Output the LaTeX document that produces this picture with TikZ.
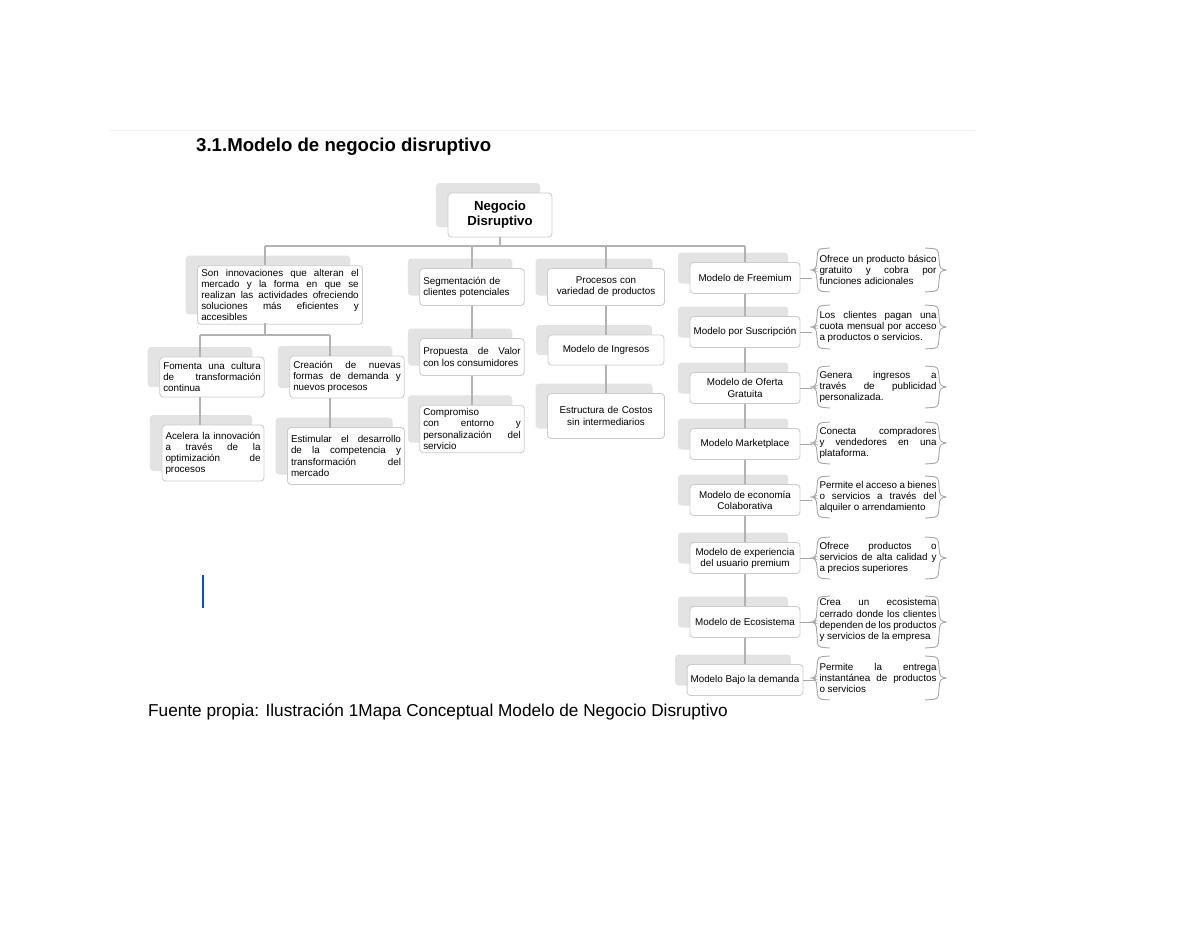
\documentclass[tikz,border=0pt]{standalone}
\usepackage{fontspec}
\setmainfont{Liberation Sans}
\usetikzlibrary{shadows}
\hyphenpenalty=10000 \exhyphenpenalty=10000 \hbadness=10000
\begin{document}
\begin{tikzpicture}[x=0.02cm,y=-0.02cm,
 bx/.style={draw=gray!40,fill=white,rounded corners=2pt,line width=0.5pt,
   inner sep=2pt,font=\fontsize{5.6}{6.3}\selectfont,
   copy shadow={shadow xshift=-0.24cm,shadow yshift=0.2cm,fill=gray!22,draw=none}},
 ln/.style={draw=gray!60,line width=0.9pt},
 br/.style={draw=gray!70,line width=0.5pt},
 bt/.style={font=\fontsize{5.6}{6.3}\selectfont,align=justify,inner sep=1pt}]
\useasboundingbox (0,0) rectangle (1200,927);
\fill[white] (0,0) rectangle (1200,927);
\draw[gray!12] (110,130) -- (975,130);
\node[anchor=west,font=\bfseries\fontsize{10.6}{13}\selectfont] (title) at (190,147) {3.1.Modelo de negocio disruptivo};
\node[anchor=west,font=\fontsize{9.8}{12}\selectfont] (cap) at (142,712) {Fuente propia: Ilustración 1Mapa Conceptual Modelo de Negocio Disruptivo};
\draw[blue!70!cyan,line width=0.8pt] (203,575) -- (203,608);
% root
\node[bx,minimum width=2.08cm,minimum height=0.88cm,font=\bfseries\fontsize{7.5}{8.5}\selectfont,align=center] (root) at (500,215) {Negocio\\Disruptivo};
% column 1
\node[bx,minimum width=3.3cm,minimum height=1.1cm,text width=3.15cm,align=justify] (c1) at (280,295) {Son innovaciones que alteran el mercado y la forma en que se realizan las actividades ofreciendo soluciones más eficientes y accesibles};
\node[bx,minimum width=2.08cm,minimum height=0.8cm,text width=1.95cm,align=justify] (a1) at (212,377) {Fomenta una cultura de transformación continua};
\node[bx,minimum width=2.28cm,minimum height=0.84cm,text width=2.15cm,align=justify] (b1) at (347,377) {Creación de nuevas formas de demanda y nuevos procesos};
\node[bx,minimum width=2.04cm,minimum height=1.12cm,text width=1.9cm,align=justify] (a2) at (213,453) {Acelera la innovación a través de la optimización de procesos};
\node[bx,minimum width=2.34cm,minimum height=1.14cm,text width=2.2cm,align=justify] (b2) at (346,456) {Estimular el desarrollo de la competencia y transformación del mercado};
% column 2
\node[bx,minimum width=2.08cm,minimum height=0.74cm,text width=1.95cm,align=left] (d1) at (472,287) {Segmentación de clientes potenciales};
\node[bx,minimum width=2.08cm,minimum height=0.74cm,text width=1.95cm,align=justify] (d2) at (472,357) {Propuesta de Valor con los consumidores};
\node[bx,minimum width=2.08cm,minimum height=0.84cm,text width=1.95cm,align=justify] (d3) at (472,429) {Compromiso con entorno y personalización del servicio};
% column 3
\node[bx,minimum width=2.32cm,minimum height=0.74cm,text width=2.2cm,align=center] (e1) at (606,287) {Procesos con variedad de productos};
\node[bx,minimum width=2.32cm,minimum height=0.6cm,align=center] (e2) at (606,350) {Modelo de Ingresos};
\node[bx,minimum width=2.32cm,minimum height=0.9cm,text width=2.2cm,align=center] (e3) at (606,416) {Estructura de Costos sin intermediarios};
% column 4
\foreach \n/\y/\t in {f1/278/{Modelo de Freemium},f2/332/{Modelo por Suscripción},f3/388/{Modelo de Oferta\\Gratuita},f4/444/{Modelo Marketplace},f5/500/{Modelo de economía\\Colaborativa},f6/558/{Modelo de experiencia\\del usuario premium},f7/622/{Modelo de Ecosistema},f8/680/{Modelo Bajo la demanda}}
  \node[bx,minimum width=2.2cm,minimum height=0.62cm,align=center] (\n) at (745,\y) {\t};
% description texts
\foreach \n/\y/\t in {g1/270/{Ofrece un producto básico gratuito y cobra por funciones adicionales},
 g2/327/{Los clientes pagan una cuota mensual por acceso a productos o servicios.},
 g3/387/{Genera ingresos a través de publicidad personalizada.},
 g4/443/{Conecta compradores y vendedores en una plataforma.},
 g5/497/{Permite el acceso a bienes o servicios a través del alquiler o arrendamiento},
 g6/558/{Ofrece productos o servicios de alta calidad y a precios superiores},
 g7/620/{Crea un ecosistema cerrado donde los clientes dependen de los productos y servicios de la empresa},
 g8/678/{Permite la entrega instantánea de productos o servicios}}
  \node[bt,text width=2.34cm] (\n) at (878,\y) {\t};
% braces
\foreach \y/\h in {270/18,327/18,387/17,443/17,497/17,558/17,622/22,678/18}{
  \draw[br,rounded corners=2pt] (830,\y-\h-4) -- (818,\y-\h-3) -- (816,\y-1) -- (812,\y) -- (816,\y+1) -- (818,\y+\h+3) -- (830,\y+\h+4);
  \draw[br,rounded corners=2pt] (925,\y-\h-4) -- (938,\y-\h-3) -- (940,\y-1) -- (948,\y) -- (940,\y+1) -- (938,\y+\h+3) -- (925,\y+\h+4);
}
% connectors
\draw[ln] (root.south) -- (500,246);
\draw[ln] (265,246) -- (745,246);
\draw[ln] (265,246) -- (c1.north -| 265,0);
\draw[ln] (472,246) -- (d1.north);
\draw[ln] (606,246) -- (e1.north);
\draw[ln] (745,246) -- (f1.north);
\draw[ln] (265,323) -- (265,335);
\draw[ln] (200,335) -- (330,335);
\draw[ln] (200,335) -- (200,357);
\draw[ln] (330,335) -- (330,356);
\draw[ln] (200,397) -- (200,425);
\draw[ln] (330,398) -- (330,428);
\draw[ln] (d1) -- (d2); \draw[ln] (d2) -- (d3);
\draw[ln] (e1) -- (e2); \draw[ln] (e2) -- (e3);
\foreach \a/\b in {f1/f2,f2/f3,f3/f4,f4/f5,f5/f6,f6/f7,f7/f8} \draw[ln] (\a) -- (\b);
\foreach \i in {1,...,8} \draw[br] (f\i.east) -- ++(12,0);
\end{tikzpicture}
\end{document}
